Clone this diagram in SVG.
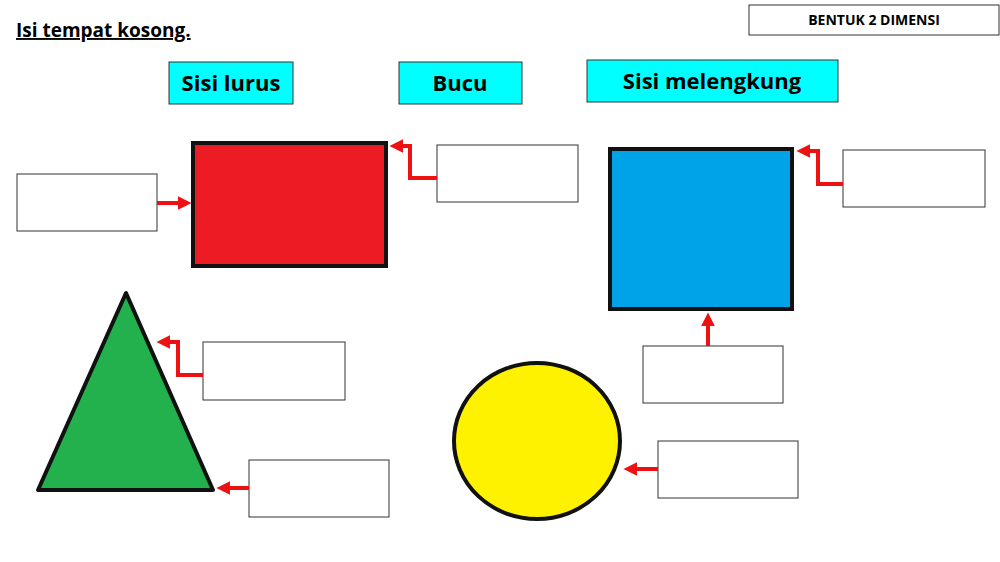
<svg xmlns="http://www.w3.org/2000/svg" width="1000" height="562" viewBox="0 0 1000 562">
<style>
.t{font-family:"Open Sans","Liberation Sans",sans-serif;font-weight:bold;fill:#000}
.lab{fill:#00FFFF;stroke:#333;stroke-width:1}
.box{fill:#fff;stroke:#333;stroke-width:1}
.sh{stroke:#111;stroke-width:4}
.ar{fill:none;stroke:#EE1111;stroke-width:4;marker-end:url(#ah)}
</style>
<defs><marker id="ah" viewBox="0 0 10 10" refX="6" refY="5" markerWidth="3.5" markerHeight="3.5" orient="auto" markerUnits="strokeWidth"><path d="M0,0 L10,5 L0,10 z" fill="#EE1111"/></marker></defs>
<rect width="1000" height="562" fill="#fff"/>
<text class="t" x="16" y="37" font-size="19" text-decoration="underline">Isi tempat kosong.</text>
<g id="title"><rect x="749" y="5" width="250" height="30" class="box"/><text class="t" x="874" y="25" font-size="14" text-anchor="middle">BENTUK 2 DIMENSI</text></g>
<g id="l1"><rect x="169" y="62" width="124" height="42" class="lab"/><text class="t" x="231" y="91" font-size="22" text-anchor="middle">Sisi lurus</text></g>
<g id="l2"><rect x="399" y="62" width="123" height="42" class="lab"/><text class="t" x="460" y="91" font-size="22" text-anchor="middle">Bucu</text></g>
<g id="l3"><rect x="587" y="60" width="251" height="42" class="lab"/><text class="t" x="712" y="89" font-size="22" text-anchor="middle">Sisi melengkung</text></g>
<g id="red"><rect x="193" y="143" width="193" height="123" fill="#ED1C24" class="sh"/></g>
<g id="blue"><rect x="610" y="149" width="182" height="160" fill="#00A2E8" class="sh"/></g>
<g id="green"><polygon points="126,293 38,490 213,490" fill="#22B14C" class="sh" stroke-linejoin="round"/></g>
<g id="yellow"><ellipse cx="537" cy="441" rx="83" ry="78" fill="#FFF200" class="sh"/></g>
<g id="b1"><rect x="17" y="174" width="140" height="57" class="box"/></g>
<g id="b2"><rect x="437" y="145" width="141" height="57" class="box"/></g>
<g id="b3"><rect x="843" y="150" width="142" height="57" class="box"/></g>
<g id="b4"><rect x="203" y="342" width="142" height="58" class="box"/></g>
<g id="b5"><rect x="249" y="460" width="140" height="57" class="box"/></g>
<g id="b6"><rect x="643" y="346" width="140" height="57" class="box"/></g>
<g id="b7"><rect x="658" y="441" width="140" height="57" class="box"/></g>
<g id="connectors">
<path class="ar" d="M157,203 H186"/>
<path class="ar" d="M437,178 H410 V146 H395"/>
<path class="ar" d="M843,184 H818 V151 H802"/>
<path class="ar" d="M708,346 V318"/>
<path class="ar" d="M203,375 H178 V342 H162"/>
<path class="ar" d="M249,488 H222"/>
<path class="ar" d="M658,469 H629"/>
</g>
</svg>
